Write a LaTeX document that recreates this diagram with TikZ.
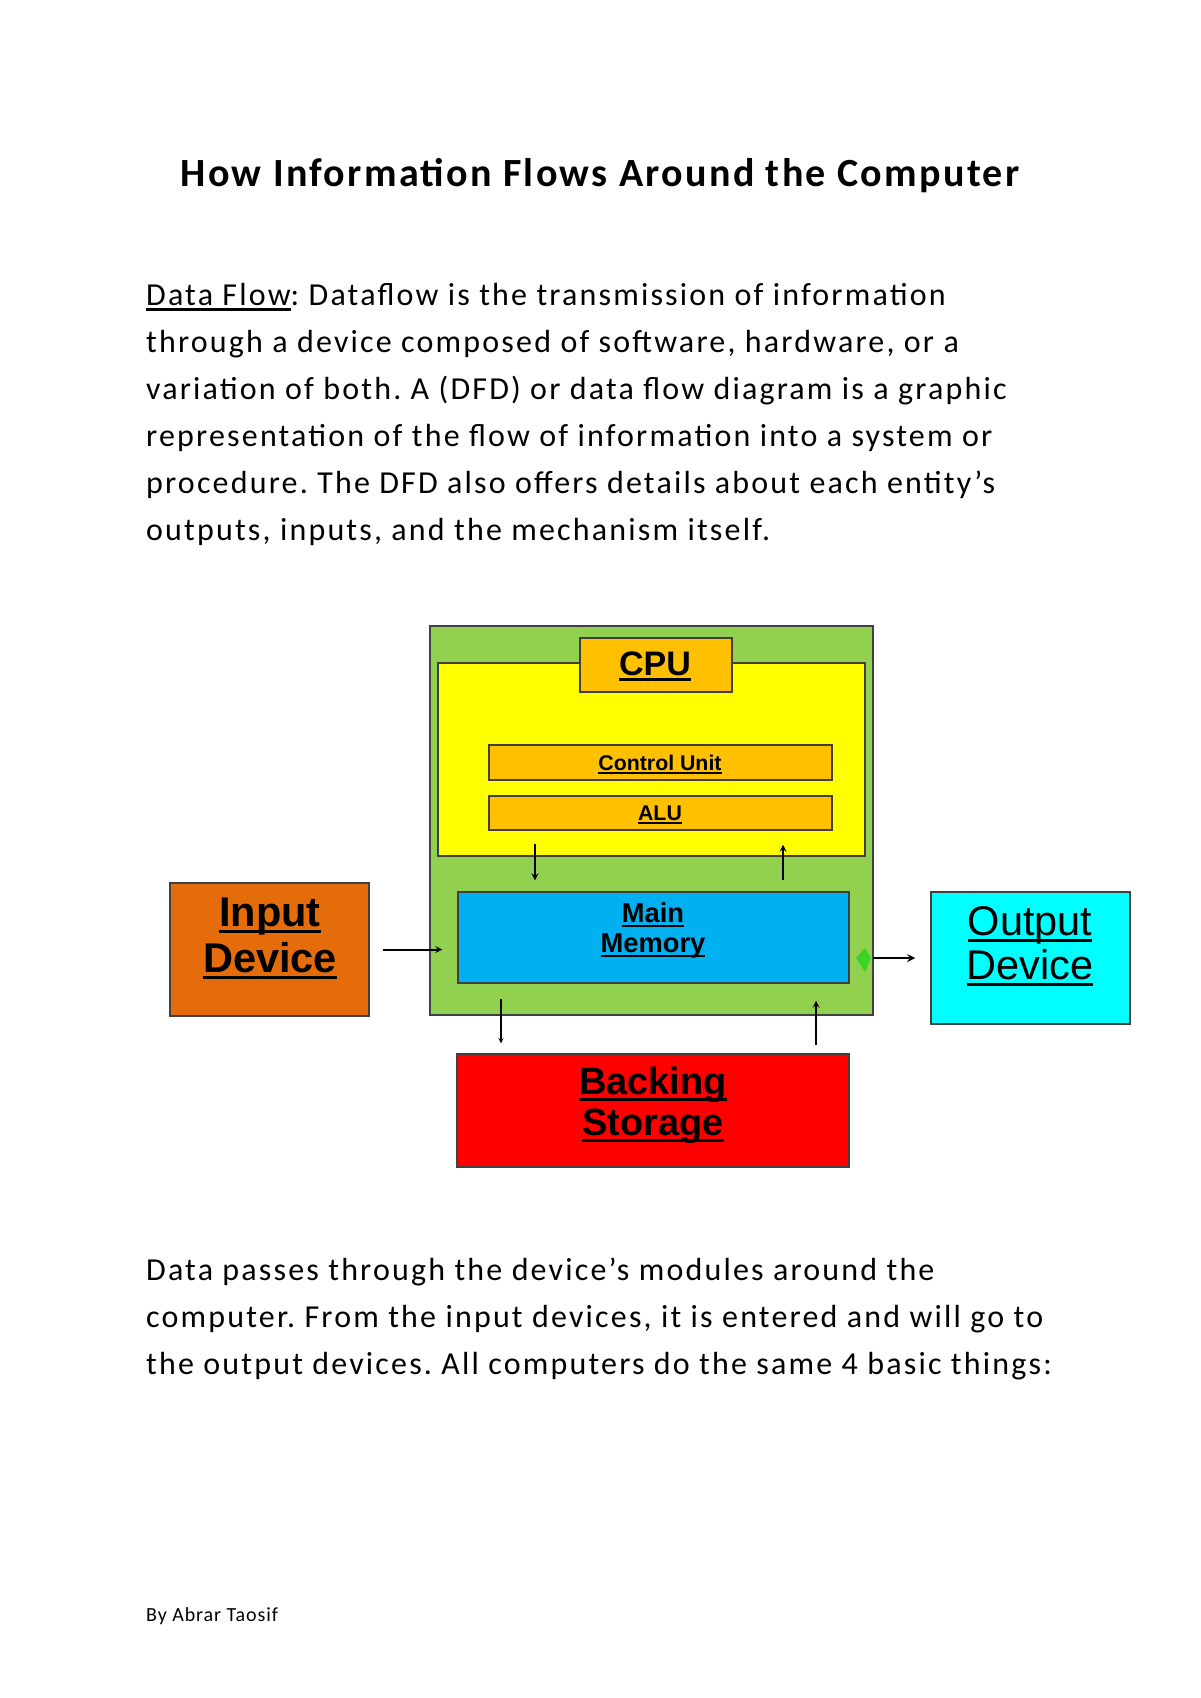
\documentclass[tikz,border=0pt]{standalone}
\usepackage{fontspec}
\setmainfont{Carlito}[LetterSpace=6.8]
\newfontfamily\titlefont{Carlito}[LetterSpace=5.8]
\newfontfamily\bylinefont{Carlito}[LetterSpace=4.6]
\newfontfamily\arialfont{Liberation Sans}
\usetikzlibrary{arrows,calc,positioning}
\frenchspacing

\newsavebox{\uwordbox}
\newcommand{\uword}[1]{\sbox{\uwordbox}{#1}\rlap{\rule[-0.18em]{\wd\uwordbox}{0.08em}}\usebox{\uwordbox}}

\definecolor{sysgreen}{RGB}{146,208,80}
\definecolor{cpuyellow}{RGB}{255,255,0}
\definecolor{unitorange}{RGB}{255,192,0}
\definecolor{memblue}{RGB}{0,176,240}
\definecolor{inorange}{RGB}{228,108,10}
\definecolor{outcyan}{RGB}{0,255,255}
\definecolor{storered}{RGB}{255,0,0}
\definecolor{blobgreen}{RGB}{60,210,40}

\begin{document}
\begin{tikzpicture}[x=1pt,y=-1pt,>=stealth]
    \tikzstyle{blk}=[rectangle,draw=black!75,line width=1.5pt,inner sep=0pt]
    \tikzstyle{lbl}=[inner sep=0pt,anchor=base]
    \tikzstyle{para}=[inner sep=0pt,anchor=north west,align=left,font=\fontsize{32}{47}\selectfont]
    \tikzstyle{flow}=[->,line width=2pt]

    \useasboundingbox (0,0) rectangle (1200,1698);
    \fill[white] (0,0) rectangle (1200,1698);

    % page text
    \node[lbl,font=\fontsize{40}{48}\selectfont\titlefont\bfseries] (title) at (600,186) {How Information Flows Around the Computer};
    \node[para] (intro) at (146,272.1) {\strut\uword{Data Flow}: Dataflow is the transmission of information\\
      through a device composed of software, hardware, or a\\
      variation of both. A (DFD) or data flow diagram is a graphic\\
      representation of the flow of information into a system or\\
      procedure. The DFD also offers details about each entity’s\\
      outputs, inputs, and the mechanism itself.};
    \node[para] (outro) at (146,1247) {\strut Data passes through the device’s modules around the\\
      computer. From the input devices, it is entered and will go to\\
      the output devices. All computers do the same 4 basic things:};
    \node[lbl,anchor=base west,font=\fontsize{20}{24}\selectfont\bylinefont] (byline) at (146,1621) {By Abrar Taosif};

    % boxes
    \node[blk,fill=sysgreen,minimum width=443pt,minimum height=389pt] (system) at (651.5,820.5) {};
    \node[blk,fill=cpuyellow,minimum width=427pt,minimum height=193pt] (cpu) at (651.5,759.5) {};
    \node[blk,fill=unitorange,minimum width=152pt,minimum height=54pt] (cputag) at (656,665) {};
    \node[blk,fill=unitorange,minimum width=343pt,minimum height=35pt] (cu) at (660.5,762.5) {};
    \node[blk,fill=unitorange,minimum width=343pt,minimum height=34pt] (alu) at (660.5,813) {};
    \node[blk,fill=memblue,minimum width=391pt,minimum height=91pt] (mem) at (653.5,937.5) {};
    \node[blk,fill=inorange,minimum width=199pt,minimum height=133pt] (input) at (269.5,949.5) {};
    \node[blk,fill=outcyan,minimum width=199pt,minimum height=132pt] (output) at (1030.5,958) {};
    \node[blk,fill=storered,minimum width=392pt,minimum height=113pt] (backing) at (653,1110.5) {};

    % labels
    \node[lbl,font=\fontsize{34}{40}\selectfont\arialfont\bfseries] (cputxt) at (655,675) {\uword{CPU}};
    \node[lbl,font=\fontsize{21.3}{25}\selectfont\arialfont\bfseries] (cutxt) at (660,770) {\uword{Control Unit}};
    \node[lbl,font=\fontsize{21.3}{25}\selectfont\arialfont\bfseries] (alutxt) at (660,820) {\uword{ALU}};
    \node[lbl,font=\fontsize{27.3}{30}\selectfont\arialfont\bfseries] (memtxta) at (653,922) {\uword{Main}};
    \node[lbl,font=\fontsize{27.3}{30}\selectfont\arialfont\bfseries] (memtxtb) at (653,952) {\uword{Memory}};
    \node[lbl,font=\fontsize{41.5}{46}\selectfont\arialfont\bfseries] (intxta) at (270,926) {\uword{Input}};
    \node[lbl,font=\fontsize{41.5}{46}\selectfont\arialfont\bfseries] (intxtb) at (270,972) {\uword{Device}};
    \node[lbl,font=\fontsize{41.5}{44}\selectfont\arialfont] (outtxta) at (1030,935) {\uword{Output}};
    \node[lbl,font=\fontsize{41.5}{44}\selectfont\arialfont] (outtxtb) at (1030,979) {\uword{Device}};
    \node[lbl,font=\fontsize{38}{41}\selectfont\arialfont\bfseries] (bstxta) at (653,1094) {\uword{Backing}};
    \node[lbl,font=\fontsize{38}{41}\selectfont\arialfont\bfseries] (bstxtb) at (653,1135) {\uword{Storage}};

    % flows
    \coordinate (dnx) at (535,0);
    \coordinate (upx) at (783,0);
    \coordinate (savex) at (501,0);
    \coordinate (loadx) at (816,0);

    \fill[blobgreen] (856,958) -- (865,948) -- (871,958) -- (865,972) -- cycle;
    \draw[flow,shorten <=13pt,shorten >=15pt] (input.east) -- (input.east -| mem.west);
    \draw[->,line width=2.5pt,shorten <=23pt,shorten >=15pt] (output.west -| mem.east) -- (output.west);
    \draw[flow,shorten <=-13pt,shorten >=11pt] (cpu.south -| dnx) -- (mem.north -| dnx);
    \draw[flow,shorten <=11pt,shorten >=-12pt] (mem.north -| upx) -- (cpu.south -| upx);
    \draw[->,line width=1.2pt,shorten <=15pt,shorten >=10pt] (mem.south -| savex) -- (backing.north -| savex);
    \draw[flow,shorten <=8pt,shorten >=17pt] (backing.north -| loadx) -- (mem.south -| loadx);
\end{tikzpicture}
\end{document}
